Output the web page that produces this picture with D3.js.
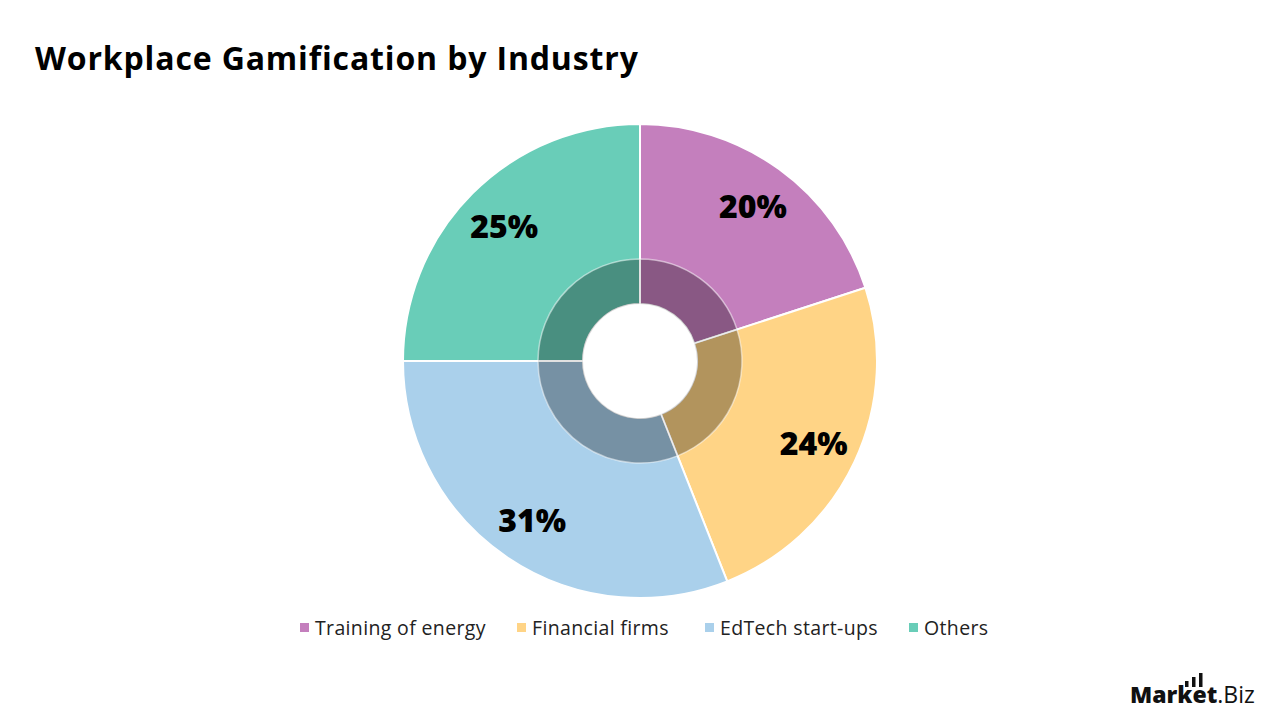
<!DOCTYPE html>
<html><head><meta charset="utf-8">
<script src="https://cdn.jsdelivr.net/npm/d3@7"></script>
<style>body{margin:0;background:#fff;}svg{display:block;}</style>
</head><body>
<svg id="chart" width="1280" height="720"></svg>
<script>
const categories = ["Training of energy", "Financial firms", "EdTech start-ups", "Others"];
const values = [20, 24, 31, 25];
const colors = ["#C47FBD", "#FFD486", "#AAD0EB", "#69CDB8"];
const title = "Workplace Gamification by Industry";

const svg = d3.select("#chart");
const cx = 640, cy = 361, R = 237, rInner = 57, rRing = 102, rLabel = 192;

svg.append("text").attr("x", 35).attr("y", 70)
  .attr("font-family", "Open Sans, sans-serif").attr("font-weight", 700)
  .attr("font-size", 32).attr("letter-spacing", 0.85).attr("fill", "#000").text(title);

const pie = d3.pie().sort(null).value(d => d)(values);
const g = svg.append("g").attr("transform", `translate(${cx},${cy})`);
const arcOuter = d3.arc().innerRadius(rInner).outerRadius(R);
const arcRing = d3.arc().innerRadius(rInner).outerRadius(rRing);
const arcLabel = d3.arc().innerRadius(rLabel).outerRadius(rLabel);

g.selectAll("path.slice").data(pie).join("path").attr("class", "slice")
  .attr("d", arcOuter).attr("fill", (d, i) => colors[i])
  .attr("stroke", "#fff").attr("stroke-width", 2);
g.selectAll("path.ring").data(pie).join("path").attr("class", "ring")
  .attr("d", arcRing).attr("fill", "#000").attr("fill-opacity", 0.3);
g.selectAll("path.sep").data(pie).join("path").attr("class", "sep")
  .attr("d", arcRing).attr("fill", "none")
  .attr("stroke", "#fff").attr("stroke-opacity", 0.5).attr("stroke-width", 1.5);

g.selectAll("text.lbl").data(pie).join("text").attr("class", "lbl")
  .attr("transform", d => `translate(${arcLabel.centroid(d)})`)
  .attr("text-anchor", "middle").attr("dominant-baseline", "central")
  .attr("font-family", "Open Sans, sans-serif").attr("font-weight", 800)
  .attr("font-size", 32).attr("fill", "#000")
  .text(d => d.data + "%");

// legend
const legendX = [300, 517, 705, 909];
const lg = svg.append("g");
categories.forEach((c, i) => {
  lg.append("rect").attr("x", legendX[i]).attr("y", 623).attr("width", 9).attr("height", 9).attr("fill", colors[i]);
  lg.append("text").attr("x", legendX[i] + 15).attr("y", 627.5)
    .attr("dominant-baseline", "central")
    .attr("font-family", "Open Sans, sans-serif").attr("font-size", 19.5)
    .attr("letter-spacing", 0.35).attr("fill", "#222").text(c);
});

// logo
const logo = svg.append("g");
const lt = logo.append("text").attr("x", 1130).attr("y", 703)
  .attr("font-family", "Open Sans, sans-serif").attr("font-size", 23).attr("fill", "#111");
lt.append("tspan").attr("font-weight", 800).text("Market");
lt.append("tspan").attr("font-weight", 400).text(".Biz");
[[1185, 681, 6], [1192, 677, 10], [1199, 673, 14]].forEach(b => {
  logo.append("rect").attr("x", b[0]).attr("y", b[1]).attr("width", 3.5).attr("height", b[2]).attr("fill", "#111");
});
</script>
</body></html>
